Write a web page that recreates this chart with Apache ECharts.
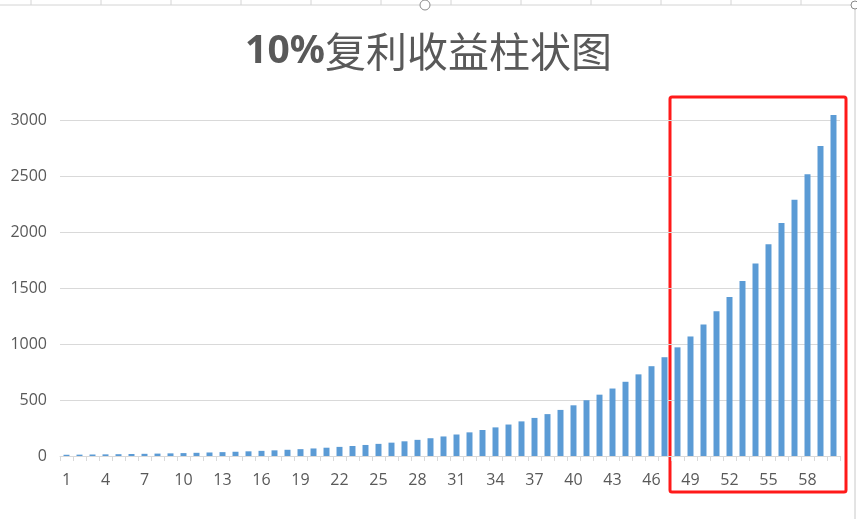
<!DOCTYPE html>
<html><head><meta charset="utf-8">
<script src="https://cdn.jsdelivr.net/npm/echarts@6/dist/echarts.min.js"></script>
<style>html,body{margin:0;padding:0;background:#fff}#c{width:857px;height:519px}</style>
</head><body><div id="c"></div>
<script>
const categories = [];
for (let i = 1; i <= 60; i++) categories.push(String(i));
const values = [11,12.1,13.31,14.64,16.11,17.72,19.49,21.44,23.58,25.94,
28.53,31.38,34.52,37.97,41.77,45.95,50.54,55.6,61.16,67.27,
74,81.4,89.54,98.5,108.35,119.18,131.1,144.21,158.63,174.49,
191.94,211.14,232.25,255.48,281.02,309.13,340.04,374.04,411.45,452.59,
497.85,547.64,602.4,662.64,728.9,801.79,881.97,970.17,1067.19,1173.91,
1291.3,1420.43,1562.47,1718.72,1890.59,2079.65,2287.62,2516.38,2768.02,3044.82];
const yTicks = [0,500,1000,1500,2000,2500,3000];
const titleText = '10%复利收益柱状图';

const chart = echarts.init(document.getElementById('c'), null, {renderer:'canvas'});
const topLines = [31,101,171,241,311,381,451,521,591,661,731,801].map(x => ({
  type:'line', shape:{x1:x,y1:0,x2:x,y2:5}, style:{stroke:'#d4d4d4',lineWidth:1}, silent:true
}));
chart.setOption({
  backgroundColor:'#fff',
  animation:false,
  title:{
    text:'{b|10%}{n|' + titleText.slice(3) + '}',
    left:'center', top:26,
    textStyle:{
      rich:{
        b:{fontFamily:'Noto Sans, sans-serif',fontWeight:'bold',fontSize:39,color:'#595959'},
        n:{fontFamily:'Noto Sans CJK SC, sans-serif',fontWeight:'normal',fontSize:41,color:'#595959'}
      }
    }
  },
  grid:{left:60,right:17,top:120,bottom:63,containLabel:false},
  xAxis:{
    type:'category', data:categories,
    axisLine:{lineStyle:{color:'#d9d9d9',width:1}},
    axisTick:{show:true,interval:0,length:5,lineStyle:{color:'#d9d9d9'}},
    axisLabel:{interval:2,color:'#595959',fontSize:16,margin:16,fontFamily:'Open Sans, sans-serif'}
  },
  yAxis:{
    type:'value', min:0, max:3000, interval:500,
    axisLine:{show:false}, axisTick:{show:false},
    axisLabel:{color:'#595959',fontSize:16,margin:13,fontFamily:'Open Sans, sans-serif',
      formatter:function(v){return String(v);}},
    splitLine:{lineStyle:{color:'#d9d9d9',width:1}}
  },
  series:[{
    type:'bar', data:values, barWidth:'46%', clip:false,
    itemStyle:{color:'#5B9BD5'}
  }],
  graphic:[
    {type:'line',shape:{x1:0,y1:5,x2:857,y2:5},style:{stroke:'#d4d4d4',lineWidth:1},silent:true},
    ...topLines,
    {type:'circle',shape:{cx:425,cy:5,r:5},style:{fill:'#fff',stroke:'#8a8a8a',lineWidth:1},silent:true},
    {type:'line',shape:{x1:855,y1:5,x2:855,y2:519},style:{stroke:'#c8c8c8',lineWidth:1},silent:true},
    {type:'circle',shape:{cx:855,cy:5,r:4},style:{fill:'#fff',stroke:'#8a8a8a',lineWidth:1},silent:true},
    {type:'rect',shape:{x:670,y:97,width:176,height:395,r:2},style:{fill:'none',stroke:'#FF1A1A',lineWidth:3},silent:true}
  ]
});
</script></body></html>
